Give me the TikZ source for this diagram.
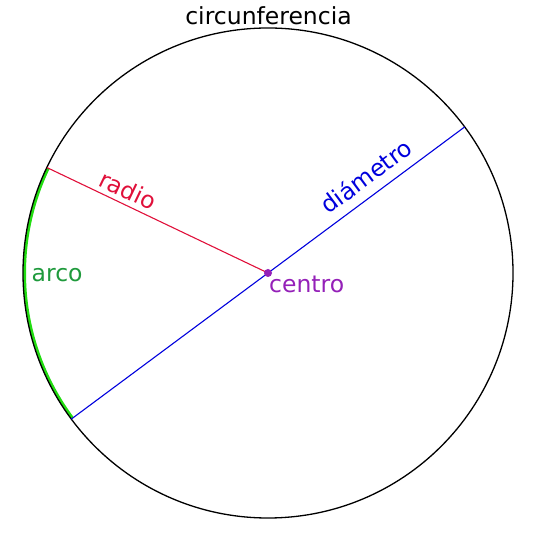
\documentclass[tikz,border=0pt]{standalone}
\usepackage{fontspec}
\setmainfont{DejaVu Sans}
\usetikzlibrary{calc}
\definecolor{radred}{HTML}{E0103A}
\definecolor{diamblue}{HTML}{0000DD}
\definecolor{arcgreen}{HTML}{22DD11}
\definecolor{arctext}{HTML}{1F9A3C}
\definecolor{cpurple}{HTML}{9420B8}
\begin{document}
\begin{tikzpicture}[x=1pt,y=1pt,
  lbl/.style={inner sep=0pt,font=\fontsize{23.5}{26}\selectfont}]
\useasboundingbox (0,0) rectangle (545,537);
\coordinate (C) at (268,264);
\coordinate (D1) at ($(C)+(36.6:245)$);
\coordinate (D2) at ($(C)+(216.6:245)$);
\coordinate (R) at ($(C)+(154.5:245)$);
% green arc
\draw[arcgreen,line width=3pt] ($(C)+(154.5:243.5)$) arc[start angle=154.5,end angle=216.6,radius=243.5];
% circle
\draw[black,line width=1.3pt] (C) circle[radius=245];
% diameter and radius
\draw[diamblue,line width=1.1pt] (D2) -- (D1);
\draw[radred,line width=1.1pt] (C) -- (R);
\fill[cpurple] (C) circle[radius=4];
% labels
\node[lbl,anchor=base] (title) at (268.5,512) {circunferencia};
\node[lbl,anchor=base west,text=cpurple] (centro) at (269,244.5) {centro};
\node[lbl,anchor=base west,text=arctext] (arco) at (31.5,255.5) {arco};
\node[lbl,text=radred,rotate=-25.5] (radio) at (128,347) {radio};
\node[lbl,text=diamblue,rotate=36.6] (diam) at (366,361) {diámetro};
\end{tikzpicture}
\end{document}
